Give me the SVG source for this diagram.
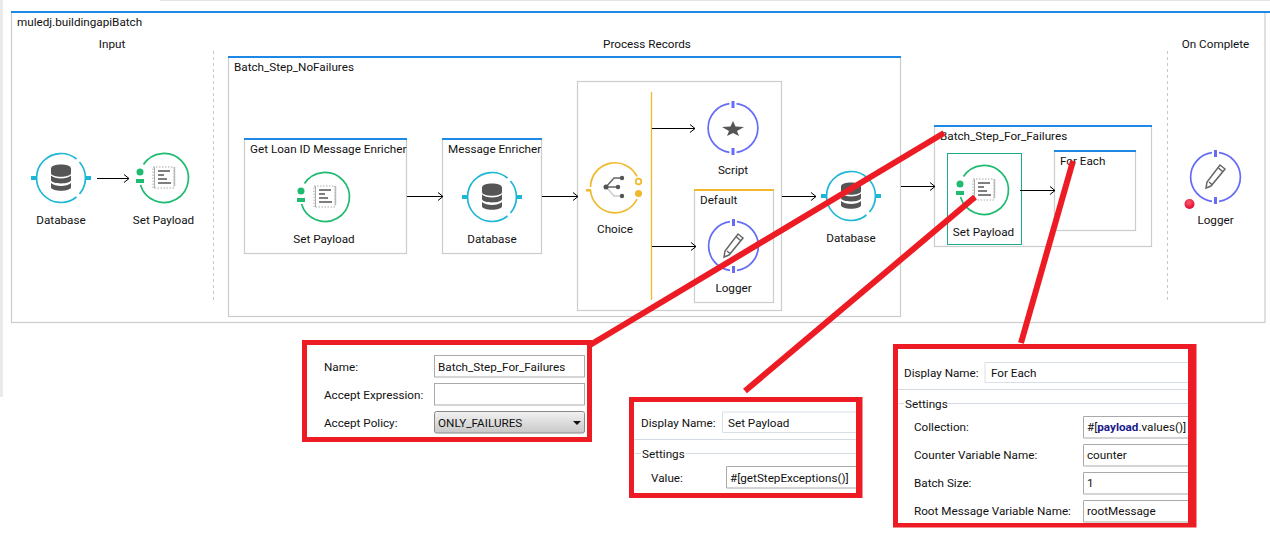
<svg xmlns="http://www.w3.org/2000/svg" xmlns:xlink="http://www.w3.org/1999/xlink" width="1270" height="539" viewBox="0 0 1270 539">
<style>
text{font-family:Roboto,"Noto Sans","Liberation Sans",sans-serif;font-size:11.700px;fill:#111}
.m{text-anchor:middle}
.box{fill:#fff;stroke:#ccc;stroke-width:1.200}
.blue{stroke:#1e88e5;stroke-width:2;fill:none}
.div{stroke:#c8c8c8;stroke-width:1;stroke-dasharray:3 3;fill:none}
.conn{stroke:#000;stroke-width:1;fill:none;marker-end:url(#arr)}
.red{stroke:#ed1c24;stroke-width:5;fill:none}
.ln{stroke:#ed1c24;stroke-width:6;fill:none}
.inp{fill:#fff;stroke:#aaa;stroke-width:1}
.inl{fill:#fff;stroke:#d9dfe6;stroke-width:1}
.sep{stroke:#d5dbe3;stroke-width:1;fill:none}
.dark{fill:#555}
</style>
<defs>
<marker id="arr" markerWidth="7" markerHeight="9" refX="6.500" refY="4.500" orient="auto" markerUnits="userSpaceOnUse"><path d="M1.500 .5L6.500 4.500L1.500 8.500" fill="none" stroke="#000" stroke-width="1"/></marker>
<linearGradient id="sel" x1="0" y1="0" x2="0" y2="1"><stop offset="0" stop-color="#f2f2f2"/><stop offset="1" stop-color="#c8c8c8"/></linearGradient>
<radialGradient id="ball" cx=".45" cy=".35" r=".7"><stop offset="0" stop-color="#ff5a70"/><stop offset="1" stop-color="#e0002a"/></radialGradient>
<g id="db">
<path d="M15.500 -19A24.500 24.500 0 1 0 15.500 19M18.500 -16A24.500 24.500 0 0 1 18.500 16" fill="none" stroke="#1db7d6" stroke-width="1.700"/>
<rect x="-30" y="-2" width="6" height="4" fill="#1db7d6"/><rect x="24" y="-2" width="6" height="4" fill="#1db7d6"/>
<path class="dark" d="M-10 -9.500C-10 -15 10 -15 10 -9.500L10 -5C10 0 -10 0 -10 -5ZM-10 -2.500C-6 1.500 6 1.500 10 -2.500L10 2C10 6.500 -10 6.500 -10 2ZM-10 5C-6 9 6 9 10 5L10 9C10 14 -10 14 -10 9Z"/>
</g>
<g id="sp">
<path d="M-20.500 -13.500A24.500 24.500 0 1 1 -23.500 7" fill="none" stroke="#1fbb70" stroke-width="1.700"/>
<circle cx="-24" cy="-6" r="3.500" fill="#1fbb70"/><rect x="-28" y="1" width="8" height="4" fill="#1fbb70"/>
<rect x="-11" y="-11" width="21" height="21" fill="none" stroke="#aaa" stroke-width="1" stroke-dasharray="1.500 1.500"/>
<path d="M-9.500 -11V10" stroke="#aaa" fill="none"/><path d="M10.500 -11V8" stroke="#bbb" stroke-width="1.500" fill="none"/>
<path d="M-6 -7H6M-6 -3H0M-6 1H3M-6 5H7" stroke="#555" stroke-width="1.600" fill="none"/>
</g>
<g id="ring">
<path d="M3.500 -24.300A24.500 24.500 0 0 1 3.500 24.300M-3.500 24.300A24.500 24.500 0 0 1 -3.500 -24.300" fill="none" stroke="#666cf5" stroke-width="1.700"/>
<rect x="-1.500" y="-27" width="3" height="7" fill="#666cf5"/><rect x="-1.500" y="20" width="3" height="7" fill="#666cf5"/>
</g>
<path id="pen" d="M5 -12L10 -8L-4 9L-9 11L-8 5ZM3.500 -9L7.500 -5.500M-6 5L-3 7.500" fill="none" stroke="#666" stroke-width="1.500"/>
</defs>
<rect width="1270" height="539" fill="#fff"/>
<g id="chrome">
<rect x="160" y="0" width="1110" height="1" fill="#e4e4e4"/>
<rect x="0" y="0" width="3" height="397" fill="#e9eaed"/>
</g>
<g id="flow-frame">
<rect class="box" x="11.500" y="12" width="1253.500" height="310.500"/>
<path class="blue" d="M11 12H1270"/>
<text x="17" y="26">muledj.buildingapiBatch</text>
<text class="m" x="112" y="48">Input</text>
<text class="m" x="647" y="48">Process Records</text>
<text class="m" x="1215.500" y="48">On Complete</text>
<path class="div" d="M213.500 51V302M1167.500 51V303"/>
</g>
<g id="step-nofailures">
<rect class="box" x="228.500" y="57" width="672" height="259.500"/><path class="blue" d="M228 57H901"/>
<text x="234" y="71">Batch_Step_NoFailures</text>
</g>
<g id="n-database-1"><use xlink:href="#db" href="#db" x="61" y="178"/><text class="m" x="61" y="224">Database</text></g>
<g id="n-setpayload-1"><use xlink:href="#sp" href="#sp" x="164" y="178"/><text class="m" x="163.500" y="224">Set Payload</text></g>
<g id="n-enricher-1">
<rect class="box" x="244.500" y="139" width="162" height="114.500"/><path class="blue" d="M244 139H407"/>
<text x="250" y="153">Get Loan ID Message Enricher</text>
<use xlink:href="#sp" href="#sp" x="325" y="197"/><text class="m" x="324" y="243">Set Payload</text>
</g>
<g id="n-enricher-2">
<rect class="box" x="442.500" y="139" width="99" height="114.500"/><path class="blue" d="M442 139H542"/>
<text x="448" y="153">Message Enricher</text>
<use xlink:href="#db" href="#db" x="492" y="197"/><text class="m" x="492" y="243">Database</text>
</g>
<g id="n-choice">
<rect class="box" x="577.500" y="81.500" width="204" height="229"/>
<path d="M651.500 92V300" stroke="#f0b92b" stroke-width="1.300" fill="none"/>
<path d="M590.500 187A24.500 24.500 0 0 1 637 176.500M637 199A24.500 24.500 0 0 1 590.500 190" fill="none" stroke="#f0b92b" stroke-width="1.700"/>
<rect x="586" y="189" width="5" height="2.500" fill="#f0b92b"/>
<circle cx="638.500" cy="181.500" r="2.800" fill="#fff" stroke="#f0b92b" stroke-width="1.700"/><circle cx="638.500" cy="193.500" r="3.500" fill="#f0b92b"/>
<path d="M606 187L614 178H622M606 187H618" stroke="#666" stroke-width="1.500" fill="none"/><path d="M606 187L614 196H622" stroke="#ccc" stroke-width="1.500" fill="none"/>
<circle cx="606" cy="187" r="2.500" fill="#555"/><circle cx="622" cy="178" r="2.200" fill="#555"/><circle cx="618" cy="187" r="2.200" fill="#555"/><circle cx="622" cy="196" r="2.200" fill="#555"/>
<text class="m" x="615" y="233">Choice</text>
</g>
<g id="n-script">
<use xlink:href="#ring" href="#ring" x="733" y="128"/>
<path class="dark" d="M733 121L735.500 126.500L744 127L737 131L739 136L733 133L727 136L729 131L722 127L730.500 126.500Z"/>
<text class="m" x="733" y="174">Script</text>
</g>
<g id="n-default">
<rect class="box" x="694.500" y="190" width="79" height="112.500"/><path d="M694 190H774" stroke="#f0b92b" stroke-width="2" fill="none"/>
<text x="700" y="204">Default</text>
<use xlink:href="#ring" href="#ring" x="733.500" y="246"/><use xlink:href="#pen" href="#pen" x="733" y="246"/>
<text class="m" x="733.500" y="292">Logger</text>
</g>
<g id="n-database-4"><use xlink:href="#db" href="#db" x="851" y="196"/><text class="m" x="851" y="242">Database</text></g>
<g id="step-failures">
<rect class="box" x="934.500" y="126" width="217" height="120.500"/><path class="blue" d="M934 126H1152"/>
<text x="940" y="140">Batch_Step_For_Failures</text>
</g>
<g id="n-setpayload-3">
<rect x="947.500" y="153.500" width="74" height="91" fill="#fff" stroke="#1fa98c"/>
<use xlink:href="#sp" href="#sp" x="984" y="190"/><text class="m" x="983.500" y="236">Set Payload</text>
</g>
<g id="n-foreach">
<rect class="box" x="1054.500" y="151" width="81" height="79.500"/><path class="blue" d="M1054 151H1136"/>
<text x="1060" y="165">For Each</text>
</g>
<g id="n-logger">
<use xlink:href="#ring" href="#ring" x="1215.500" y="177"/><use xlink:href="#pen" href="#pen" x="1215" y="177"/>
<circle cx="1189.500" cy="204" r="5" fill="url(#ball)"/>
<text class="m" x="1215.500" y="224">Logger</text>
</g>
<g id="connectors">
<path class="conn" d="M97 178.500H129"/>
<path class="conn" d="M407 196.500H443"/>
<path class="conn" d="M542 196.500H578"/>
<path class="conn" d="M652 128.500H695"/>
<path class="conn" d="M652 246.500H696"/>
<path class="conn" d="M782 196.500H816"/>
<path class="conn" d="M901 186.500H935"/>
<path class="conn" d="M1020 190.500H1055"/>
</g>
<g id="callout-lines">
<path class="ln" d="M944 133L590 345"/>
<path class="ln" d="M975 197L745 391"/>
<path class="ln" d="M1073 161L1021 343"/>
</g>
<g id="panel-step">
<rect class="red" x="304.500" y="342.500" width="285" height="97"/>
<text x="324" y="371">Name:</text><text x="324" y="399">Accept Expression:</text><text x="324" y="427">Accept Policy:</text>
<rect class="inp" x="434.500" y="355.500" width="150" height="21.500"/><text x="438" y="371">Batch_Step_For_Failures</text>
<rect class="inp" x="434.500" y="383.500" width="150" height="21.500"/>
<rect x="434.500" y="411.500" width="150" height="21.500" rx="2" fill="url(#sel)" stroke="#8a8a8a"/><text x="438" y="427">ONLY_FAILURES</text>
<path d="M573 421H581L577 425Z" fill="#111"/>
</g>
<g id="panel-setpayload">
<rect x="629" y="397" width="233.500" height="101" fill="#ed1c24"/><rect x="634" y="402" width="222" height="91" fill="#fff"/>
<text x="641" y="427">Display Name:</text>
<path class="inl" d="M856 412H722.500V432.500H856"/><text x="728" y="427">Set Payload</text>
<path class="sep" d="M634 439.500H856M635 453.500H641M686 453.500H856"/>
<text x="642" y="458">Settings</text>
<text x="651" y="482">Value:</text>
<path class="inp" d="M856 466.500H726.500V488H856"/><text x="730" y="482">#[getStepExceptions()]</text>
</g>
<g id="panel-foreach">
<rect x="893" y="344" width="303.500" height="183.500" fill="#ed1c24"/><rect x="898" y="349" width="290" height="174" fill="#fff"/>
<text x="904" y="377">Display Name:</text>
<path class="inl" d="M1188 362.500H985V382.500H1188"/><text x="991" y="377">For Each</text>
<path class="sep" d="M898 389.500H1188M899 403.500H904M947 403.500H1188"/>
<text x="905" y="408">Settings</text>
<text x="914" y="431">Collection:</text><text x="914" y="459">Counter Variable Name:</text><text x="914" y="487">Batch Size:</text><text x="914" y="515">Root Message Variable Name:</text>
<path class="inp" d="M1188 416.500H1083.500V438H1188M1188 444.500H1083.500V466H1188M1188 472.500H1083.500V494H1188M1188 500.500H1083.500V522H1188"/>
<text x="1087" y="431">#[<tspan font-weight="700" style="fill:#1a1a8c">payload</tspan>.values()]</text>
<text x="1087" y="459">counter</text><text x="1087" y="487">1</text><text x="1087" y="515">rootMessage</text>
</g>
</svg>
